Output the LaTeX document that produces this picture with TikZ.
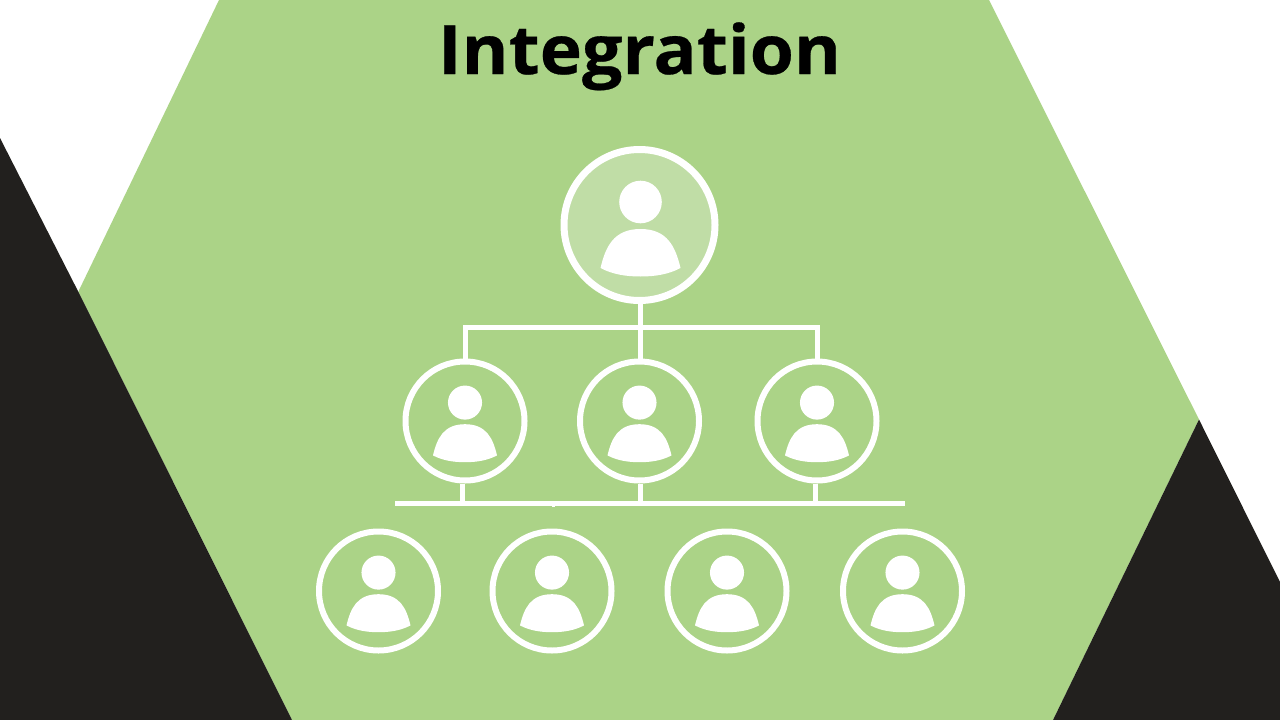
\documentclass[tikz,border=0pt]{standalone}
\usepackage{fontspec}
\setmainfont{Open Sans}
\newfontfamily\titlefont[BoldFeatures={FakeStretch=1.053,FakeBold=0.4}]{Open Sans}
\definecolor{hexgreen}{HTML}{ABD387}
\definecolor{lightgreen}{HTML}{C0DDA6}
\definecolor{darkshape}{HTML}{22201E}
\tikzset{
  person/.pic={
    \fill[white] (0,-23) circle (21.3);
    \fill[white] (-40,43) .. controls (-35,22) and (-27,4) .. (0,4)
      .. controls (27,4) and (35,22) .. (40,43)
      .. controls (28,49.5) and (14,51.5) .. (0,51.5)
      .. controls (-14,51.5) and (-28,49.5) .. (-40,43) -- cycle;
  },
  bigcirc/.style={circle,draw=white,line width=7pt,fill=lightgreen,minimum size=151pt,inner sep=0pt},
  smallcirc/.style={circle,draw=white,line width=6pt,minimum size=119pt,inner sep=0pt},
  busline/.style={draw=white,line width=5pt},
  stubline/.style={draw=white,line width=5pt},
  titletext/.style={font=\fontsize{68}{68}\titlefont\bfseries\selectfont,text=black}
}
\begin{document}
\begin{tikzpicture}[x=1pt,y=-1pt]
\useasboundingbox (0,0) rectangle (1280,720);
\fill[white] (0,0) rectangle (1280,720);
\fill[hexgreen] (219,0) -- (989,0) -- (1199,419.5) -- (1053,720) -- (292,720) -- (78.3,291.7) -- cycle;
\fill[darkshape] (0,138) -- (78.3,291.7) -- (292,720) -- (0,720) -- cycle;
\fill[darkshape] (1199,419.5) -- (1280,582) -- (1280,720) -- (1053,720) -- cycle;
\node[titletext,anchor=base] (title) at (639.5,74) {Integration};

\node[bigcirc] (top) at (639.5,225) {};
\node[smallcirc] (m1) at (465,421) {};
\node[smallcirc] (m2) at (639.5,421) {};
\node[smallcirc] (m3) at (817,421) {};
\node[smallcirc] (b1) at (378.5,591) {};
\node[smallcirc] (b2) at (552,591) {};
\node[smallcirc] (b3) at (727,591) {};
\node[smallcirc] (b4) at (902.5,591) {};

\pic at (640.5,225) {person};
\foreach \c in {m1,m2,m3,b1,b2,b3,b4}{
  \pic[scale=.8] at (\c) {person};
}

\coordinate (busAL) at (465,327.5);
\coordinate (busAM) at (640.5,327.5);
\coordinate (busAR) at (817.5,327.5);
\coordinate (busBL) at (395,503);
\coordinate (busBR) at (904.5,503);
\coordinate (s1) at (462,503);
\coordinate (s2) at (640,503);
\coordinate (s3) at (815.7,503);
\coordinate (tick) at (553,506.5);

\draw[busline,line cap=rect] (busAL) -- (busAR);
\draw[stubline] (top.south -| busAM) -- (busAM);
\draw[stubline] (busAL) -- (m1.north);
\draw[stubline] (busAM) -- (m2.north -| busAM);
\draw[stubline] (busAR) -- (m3.north -| busAR);
\draw[busline] (busBL) -- (busBR);
\draw[stubline] (m1.south -| s1) -- (s1);
\draw[stubline] (m2.south -| s2) -- (s2);
\draw[stubline] (m3.south -| s3) -- (s3);
\draw[white,line width=3pt] (tick |- busBL) -- (tick);
\end{tikzpicture}
\end{document}
